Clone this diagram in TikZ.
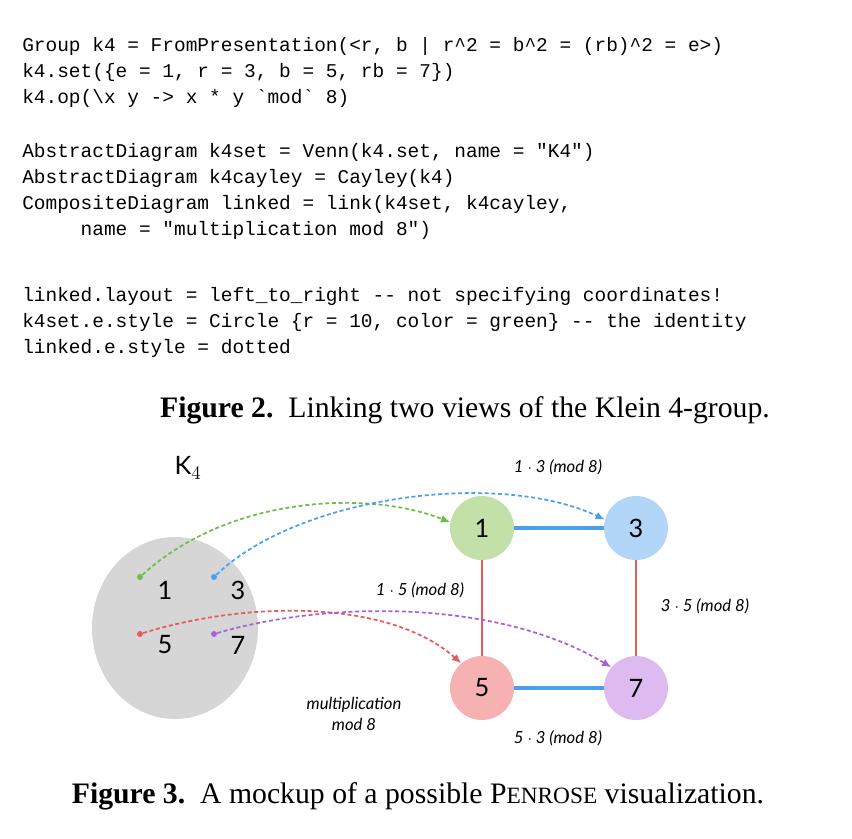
\documentclass[tikz,border=0pt]{standalone}
\usepackage{fontspec}
\setmainfont{Liberation Serif}
\newfontfamily\codef{Liberation Mono}
\newfontfamily\dsans{Lato}
\usetikzlibrary{arrows.meta}
\definecolor{cgreen}{HTML}{C2E0A8}
\definecolor{cblue}{HTML}{B2D6F8}
\definecolor{cpink}{HTML}{F5B2B0}
\definecolor{cpurple}{HTML}{DDBAF0}
\definecolor{lgreen}{HTML}{6CBE45}
\definecolor{lblue}{HTML}{4AA0F0}
\definecolor{lred}{HTML}{E85A5A}
\definecolor{lpurple}{HTML}{A860E0}
\definecolor{setgray}{HTML}{D6D6D6}
\newcommand\fakesc[2]{#1{\fontsize{17.5}{20}\selectfont #2}}
\begin{document}
\begin{tikzpicture}[x=0.75pt,y=-0.75pt,
  code/.style={anchor=base west,inner sep=0,font=\codef\fontsize{14.6}{16}\selectfont},
  figcap/.style={anchor=base,inner sep=0,font=\fontsize{22.3}{25}\selectfont},
  elem/.style={circle,minimum size=48pt,inner sep=0,font=\dsans\fontsize{19}{22}\selectfont},
  num/.style={inner sep=0,font=\dsans\fontsize{19}{22}\selectfont},
  lab/.style={inner sep=0,font=\dsans\itshape\fontsize{12.5}{16}\selectfont,align=center},
  dot/.style={circle,inner sep=0,minimum size=4.5pt},
  link/.style={densely dashed,line width=1.3pt,-{Latex[length=7pt,width=6pt]}},
  hedge/.style={lblue,line width=2.6pt},
  vedge/.style={lred,line width=1.8pt}]
\useasboundingbox (0,0) rectangle (852,838);
\node[code] (c1) at (22,52) {Group k4 = FromPresentation(<r, b | r\string^2 = b\string^2 = (rb)\string^2 = e>)};
\node[code] (c2) at (22,78) {k4.set(\{e = 1, r = 3, b = 5, rb = 7\})};
\node[code] (c3) at (22,104) {k4.op(\textbackslash x y -> x * y `mod` 8)};
\node[code] (c4) at (22,157) {AbstractDiagram k4set = Venn(k4.set, name = "K4")};
\node[code] (c5) at (22,183) {AbstractDiagram k4cayley = Cayley(k4)};
\node[code] (c6) at (22,209) {CompositeDiagram linked = link(k4set, k4cayley,};
\node[code] (c7) at (22,235) {\ \ \ \ \ name = "multiplication mod 8")};
\node[code] (c8) at (22,301) {linked.layout = left\_to\_right -{}- not specifying coordinates!};
\node[code] (c9) at (22,327) {k4set.e.style = Circle \{r = 10, color = green\} -{}- the identity};
\node[code] (c10) at (22,353) {linked.e.style = dotted};
\node[figcap] (f2) at (465,417) {\textbf{Figure 2.}\ \ Linking two views of the Klein 4-group.};
\node[figcap] (f3) at (418,803) {\textbf{Figure 3.}\ \ A mockup of a possible \fakesc{P}{ENROSE} visualization.};

\node[num] (k4) at (188,468) {K$_4$};
\fill[setgray] (175,628) ellipse (83 and 91);
\node[num] (s1) at (165,590) {1};
\node[num] (s3) at (238,590) {3};
\node[num] (s5) at (165,645) {5};
\node[num] (s7) at (238,645) {7};
\node[dot,fill=lgreen] (d1) at (140,577) {};
\node[dot,fill=lblue] (d3) at (214,577) {};
\node[dot,fill=lred] (d5) at (140,634) {};
\node[dot,fill=lpurple] (d7) at (214,634) {};

\node[elem,fill=cgreen] (n1) at (482,528) {1};
\node[elem,fill=cblue] (n3) at (636,528) {3};
\node[elem,fill=cpink] (n5) at (482,688) {5};
\node[elem,fill=cpurple] (n7) at (636,688) {7};
\draw[hedge] (n1) -- (n3);
\draw[hedge] (n5) -- (n7);
\draw[vedge] (n1) -- (n5);
\draw[vedge] (n3) -- (n7);

\draw[link,lgreen] (d1) .. controls (230,495) and (370,490) .. (n1.170);
\draw[link,lblue] (d3) .. controls (300,495) and (500,470) .. (n3.165);
\draw[link,lred] (d5) .. controls (250,600) and (390,600) .. (n5.130);
\draw[link,lpurple] (d7) .. controls (330,600) and (500,600) .. (n7.140);

\node[lab] (l13) at (558,467) {1 $\cdot$ 3 (mod 8)};
\node[lab] (l15) at (420,590) {1 $\cdot$ 5 (mod 8)};
\node[lab] (l35) at (705,606) {3 $\cdot$ 5 (mod 8)};
\node[lab] (l53) at (558,738) {5 $\cdot$ 3 (mod 8)};
\node[lab] (mm) at (354,714) {multiplication\\mod 8};
\end{tikzpicture}
\end{document}
